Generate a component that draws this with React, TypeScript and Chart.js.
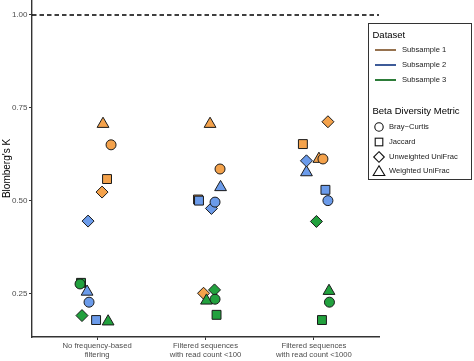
import React, { useEffect, useRef } from "react";
import { Chart, registerables } from "chart.js";

Chart.register(...registerables);

// ---------- data ----------
const categoryLabels = [
  ["No frequency-based", "filtering"],
  ["Filtered sequences", "with read count <100"],
  ["Filtered sequences", "with read count <1000"],
];
const categoryPositions = [1, 2, 3];
const yTickValues = [0.25, 0.5, 0.75, 1.0];
const referenceLine = 1.0;
const yTitle = "Blomberg's K";

const subsamples = ["Subsample 1", "Subsample 2", "Subsample 3"];
const metrics = ["Bray−Curtis", "Jaccard", "Unweighted UniFrac", "Weighted UniFrac"];

// Blomberg's K per category (3 filtering levels)
const s1BrayCurtis = [0.651, 0.586, 0.613];
const s1Jaccard = [0.559, 0.504, 0.653];
const s1Unweighted = [0.524, 0.252, 0.713];
const s1Weighted = [0.707, 0.707, 0.613];
const s2BrayCurtis = [0.228, 0.497, 0.501];
const s2Jaccard = [0.18, 0.501, 0.53];
const s2Unweighted = [0.446, 0.48, 0.608];
const s2Weighted = [0.256, 0.537, 0.577];
const s3BrayCurtis = [0.277, 0.236, 0.228];
const s3Jaccard = [0.28, 0.194, 0.18];
const s3Unweighted = [0.192, 0.261, 0.445];
const s3Weighted = [0.176, 0.232, 0.258];

// horizontal jitter (category units) per point
const j1BrayCurtis = [0.129, 0.134, 0.083];
const j1Jaccard = [0.092, -0.069, -0.102];
const j1Unweighted = [0.046, -0.018, 0.129];
const j1Weighted = [0.055, 0.042, 0.046];
const j2BrayCurtis = [-0.074, 0.088, 0.129];
const j2Jaccard = [-0.009, -0.06, 0.106];
const j2Unweighted = [-0.083, 0.055, -0.069];
const j2Weighted = [-0.092, 0.139, -0.069];
const j3BrayCurtis = [-0.157, 0.088, 0.143];
const j3Jaccard = [-0.148, 0.102, 0.074];
const j3Unweighted = [-0.139, 0.083, 0.023];
const j3Weighted = [0.102, 0.009, 0.139];

const values = [
  [s1BrayCurtis, s1Jaccard, s1Unweighted, s1Weighted],
  [s2BrayCurtis, s2Jaccard, s2Unweighted, s2Weighted],
  [s3BrayCurtis, s3Jaccard, s3Unweighted, s3Weighted],
];
const jitters = [
  [j1BrayCurtis, j1Jaccard, j1Unweighted, j1Weighted],
  [j2BrayCurtis, j2Jaccard, j2Unweighted, j2Weighted],
  [j3BrayCurtis, j3Jaccard, j3Unweighted, j3Weighted],
];

// ---------- styles ----------
const subsampleFill = ["#F4A24B", "#6B9BEA", "#22A13E"];
const subsampleLine = ["#96724F", "#3E5B98", "#2D7C39"];
const metricShape = ["circle", "rect", "rectRot", "triangle"];
const metricRadius = [5, 6.3, 6, 6.8];
const metricDrawRank = [3, 2, 1, 0]; // circles on top
const FONT = "'Liberation Sans', Arial, Helvetica, sans-serif";

function LegendSymbol({ shape }: { shape: string }) {
  const s = { fill: "none", stroke: "#111", strokeWidth: 1.1 };
  return (
    <svg width="14" height="14" viewBox="-7 -7 14 14" style={{ display: "block" }}>
      {shape === "circle" && <circle cx={0} cy={0} r={4.2} {...s} />}
      {shape === "rect" && <rect x={-3.8} y={-3.8} width={7.6} height={7.6} {...s} />}
      {shape === "rectRot" && <polygon points="0,-5.3 5.3,0 0,5.3 -5.3,0" {...s} />}
      {shape === "triangle" && <polygon points="0,-5.2 5.8,4.5 -5.8,4.5" {...s} />}
    </svg>
  );
}

export default function App() {
  const ref = useRef<HTMLCanvasElement | null>(null);

  useEffect(() => {
    if (!ref.current) return;
    const datasets: any[] = [];
    subsamples.forEach((sub, si) => {
      metrics.forEach((m, mi) => {
        const rank = si * 4 + metricDrawRank[mi];
        datasets.push({
          type: "scatter",
          label: `${sub} ${m}`,
          data: categoryPositions.map((c, ci) => ({
            x: c + jitters[si][mi][ci],
            y: values[si][mi][ci],
          })),
          pointStyle: metricShape[mi],
          pointRadius: metricRadius[mi],
          pointHoverRadius: metricRadius[mi],
          backgroundColor: subsampleFill[si],
          borderColor: "#1a1a1a",
          borderWidth: 1,
          order: 100 - rank,
        });
      });
    });
    datasets.push({
      type: "line",
      label: "reference",
      data: [
        { x: 0.4, y: referenceLine },
        { x: 3.6, y: referenceLine },
      ],
      borderColor: "#000",
      borderWidth: 1.4,
      borderDash: [4.5, 3],
      pointRadius: 0,
      fill: false,
      order: 1000,
    });

    const chart = new Chart(ref.current, {
      type: "scatter",
      data: { datasets },
      options: {
        animation: false,
        responsive: true,
        maintainAspectRatio: false,
        layout: { autoPadding: false, padding: { top: 0, right: 95, bottom: 0, left: 0 } },
        plugins: { legend: { display: false }, tooltip: { enabled: false } },
        scales: {
          x: {
            type: "linear",
            min: 0.4,
            max: 3.6,
            afterBuildTicks: (scale: any) => {
              scale.ticks = categoryPositions.map((v) => ({ value: v }));
            },
            afterFit: (scale: any) => {
              scale.height = 24;
              scale.paddingLeft = 0;
              scale.paddingRight = 0;
            },
            ticks: {
              autoSkip: false,
              maxRotation: 0,
              padding: 1,
              color: "#4D4D4D",
              font: { family: FONT, size: 7.7, lineHeight: 1.17 },
              callback: (v: any) => categoryLabels[categoryPositions.indexOf(Number(v))] ?? "",
            },
            grid: { display: true, drawOnChartArea: false, drawTicks: true, tickLength: 3, color: "#333", tickColor: "#333" },
            border: { display: true, color: "#333", width: 1.4 },
          },
          y: {
            type: "linear",
            min: 0.1344,
            max: 1.0403,
            afterBuildTicks: (scale: any) => {
              scale.ticks = yTickValues.map((v) => ({ value: v }));
            },
            afterFit: (scale: any) => {
              scale.width = 32;
              scale.paddingTop = 0;
              scale.paddingBottom = 0;
            },
            ticks: {
              padding: 1.5,
              color: "#4D4D4D",
              font: { family: FONT, size: 8 },
              callback: (v: any) => Number(v).toFixed(2),
            },
            title: {
              display: true,
              text: yTitle,
              color: "#000",
              font: { family: FONT, size: 10 },
              padding: { top: 1, bottom: 0 },
            },
            grid: { display: true, drawOnChartArea: false, drawTicks: true, tickLength: 3, color: "#333", tickColor: "#333" },
            border: { display: true, color: "#333", width: 1.4 },
          },
        },
      } as any,
    });
    return () => chart.destroy();
  }, []);

  const textStyle = (left: number, top: number, size: number, color: string): React.CSSProperties => ({
    position: "absolute",
    left,
    top,
    transform: "translateY(-50%)",
    fontFamily: FONT,
    fontSize: size,
    lineHeight: 1,
    color,
    whiteSpace: "nowrap",
  });

  const lineYs = [50, 65, 80];
  const metricYs = [127, 142, 157, 171];

  return (
    <div style={{ position: "fixed", left: 0, top: 0, width: 474, height: 361, background: "#fff", overflow: "hidden" }}>
      <canvas ref={ref} />
      <div
        style={{
          position: "absolute",
          left: 367.5,
          top: 22.5,
          width: 104,
          height: 157,
          border: "1px solid #333",
          boxSizing: "border-box",
        }}
      />
      <div style={textStyle(372.5, 34.5, 9.5, "#000")}>Dataset</div>
      {subsamples.map((s, i) => (
        <React.Fragment key={s}>
          <div
            style={{
              position: "absolute",
              left: 375,
              top: lineYs[i] - 1.1,
              width: 21,
              height: 2.2,
              background: subsampleLine[i],
            }}
          />
          <div style={textStyle(402, lineYs[i], 7.6, "#1a1a1a")}>{s}</div>
        </React.Fragment>
      ))}
      <div style={textStyle(372.5, 110.5, 9.5, "#000")}>Beta Diversity Metric</div>
      {metrics.map((m, i) => (
        <React.Fragment key={m}>
          <div style={{ position: "absolute", left: 372, top: metricYs[i] - 7 }}>
            <LegendSymbol shape={metricShape[i]} />
          </div>
          <div style={textStyle(389, metricYs[i], 7.6, "#1a1a1a")}>{m}</div>
        </React.Fragment>
      ))}
    </div>
  );
}
